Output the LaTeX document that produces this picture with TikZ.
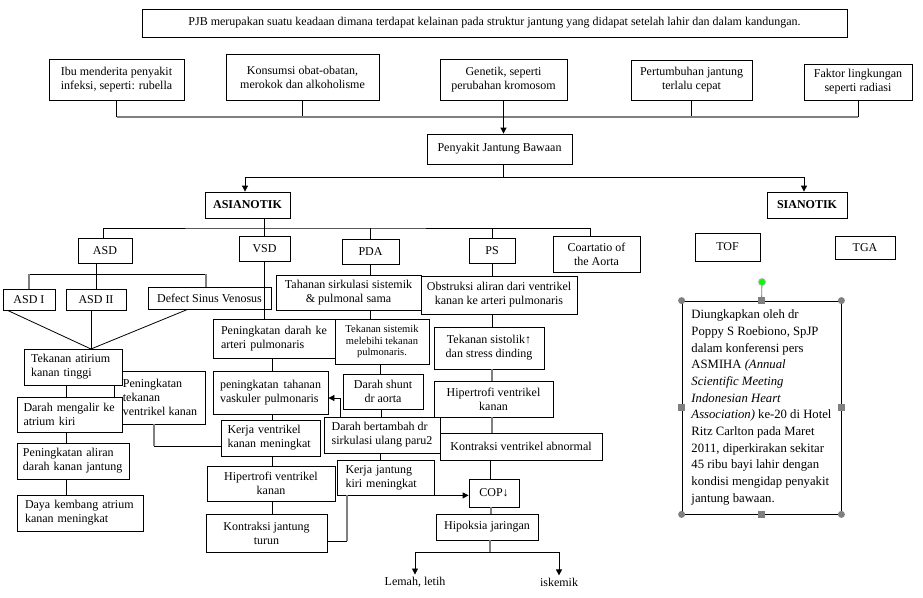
\documentclass[tikz,border=0pt]{standalone}
\usepackage{fontspec}
\setmainfont{Liberation Serif}
\usetikzlibrary{arrows.meta}
\hyphenpenalty=10000

\begin{document}
\begin{tikzpicture}[x=1pt,y=-1pt,line width=0.8pt,
    sz/.style 2 args={minimum width=#1,minimum height=#2},
    box/.style={draw,fill=white,inner sep=2pt,align=center,font=\fontsize{12}{14}\selectfont},
    lbox/.style={box,align=left},
    bbox/.style={box,font=\fontsize{12}{14}\selectfont\bfseries},
    sbox/.style={box,font=\fontsize{10.5}{11.5}\selectfont},
    nbox/.style={box,align=left,font=\fontsize{12.7}{16.7}\selectfont},
    lbl/.style={inner sep=2pt,font=\fontsize{12}{14}\selectfont},
    arr/.style={-{Triangle[length=6pt,width=6pt]}},
    gline/.style={draw=gray,line width=1.6pt}]
  \useasboundingbox (0,0) rectangle (923,597);

  \node[box,sz={705}{28}] (pjb) at (494.5,23) {PJB merupakan suatu keadaan dimana terdapat kelainan pada struktur jantung yang didapat setelah lahir dan dalam kandungan.};
  \node[box,sz={135}{41}] (ibu) at (116.5,79.5) {Ibu menderita penyakit\\infeksi, seperti: rubella};
  \node[box,sz={153}{46}] (obat) at (302.5,77) {Konsumsi obat-obatan,\\merokok dan alkoholisme};
  \node[box,sz={127}{41}] (genetik) at (503.5,79.5) {Genetik, seperti\\perubahan kromosom};
  \node[box,sz={121}{40}] (tumbuh) at (691.5,80) {Pertumbuhan jantung\\terlalu cepat};
  \node[box,sz={108}{36}] (faktor) at (858,82) {Faktor lingkungan\\seperti radiasi};
  \node[box,sz={145}{30}] (pjbawaan) at (499.5,149) {Penyakit Jantung Bawaan};

  \node[bbox,sz={85}{26}] (asianotik) at (247.5,205) {ASIANOTIK};
  \node[bbox,sz={80}{26}] (sianotik) at (807,205) {SIANOTIK};
  \node[box,sz={54}{25}] (asd) at (105,250.5) {ASD};
  \node[box,sz={51}{25}] (vsd) at (264.5,248.5) {VSD};
  \node[box,sz={57}{25}] (pda) at (370.5,251.5) {PDA};
  \node[box,sz={46}{25}] (ps) at (492,250.5) {PS};
  \node[box,sz={87}{36}] (coa) at (596.5,254) {Coartatio of\\the Aorta};
  \node[box,sz={65}{28}] (tof) at (727.5,247) {TOF};
  \node[box,sz={60}{23}] (tga) at (865,247.5) {TGA};

  \node[box,sz={52}{21}] (asdi) at (29,299.5) {ASD I};
  \node[box,sz={60}{21}] (asdii) at (96,299.5) {ASD II};
  \node[box,sz={123}{22}] (dsv) at (209.5,298) {Defect Sinus Venosus};

  \node[lbox,sz={91}{53}] (pentekanan) at (160,397.5) {Peningkatan\\tekanan\\ventrikel kanan};
  \node[lbox,sz={98}{36},text width=84] (tekatrium) at (73,367) {Tekanan atirium\\kanan tinggi};
  \node[lbox,sz={105}{35},text width=92] (mengalir) at (69.5,414.5) {Darah mengalir ke\\atrium kiri};
  \node[lbox,sz={112}{36},text width=100] (aliran) at (73,461) {Peningkatan aliran\\darah kanan jantung};
  \node[lbox,sz={126}{36},text width=110] (daya) at (80,513) {Daya kembang atrium\\kanan meningkat};

  \node[box,sz={145}{35}] (tahanan) at (348.5,292.5) {Tahanan sirkulasi sistemik\\\& pulmonal sama};
  \node[box,sz={156}{38}] (obstruksi) at (499,295) {Obstruksi aliran dari ventrikel\\kanan ke arteri pulmonaris};

  \node[lbox,sz={122}{39},text width=106] (pendarah) at (274,338.5) {Peningkatan\hfill darah\hfill ke\\arteri pulmonaris};
  \node[lbox,sz={115}{43},text width=101] (pentahanan) at (270.5,392.5) {peningkatan\hfill tahanan\\vaskuler pulmonaris};
  \node[lbox,sz={99}{36},text width=86] (kerjakanan) at (270.5,438) {Kerja ventrikel\\kanan meningkat};
  \node[box,sz={128}{35}] (hipvsd) at (271,483.5) {Hipertrofi ventrikel\\kanan};
  \node[box,sz={121}{38}] (turun) at (266.5,533) {Kontraksi jantung\\turun};

  \node[sbox,sz={94}{45}] (teksis) at (382,341.5) {Tekanan sistemik\\melebihi tekanan\\pulmonaris.};
  \node[box,sz={80}{35}] (shunt) at (383,391.5) {Darah shunt\\dr aorta};
  \node[lbox,sz={116}{36}] (bertambah) at (382,435) {Darah bertambah dr\\sirkulasi ulang paru2};
  \node[lbox,sz={97}{35},text width=80] (kerjakiri) at (385.5,477.5) {Kerja jantung\\kiri meningkat};

  \node[box,sz={110}{42}] (sistolik) at (489,348) {Tekanan sistolik↑\\dan stress dinding};
  \node[box,sz={119}{36}] (hipps) at (493.5,399) {Hipertrofi ventrikel\\kanan};
  \node[box,sz={162}{27}] (kontraksiab) at (521,446.5) {Kontraksi ventrikel abnormal};
  \node[box,sz={50}{28}] (cop) at (494,493) {COP↓};
  \node[box,sz={102}{26}] (hipoksia) at (487,527) {Hipoksia jaringan};
  \node[lbl] (lemah) at (415,582) {Lemah, letih};
  \node[lbl] (iskemik) at (559,582) {iskemik};

  \node[nbox,sz={159}{213}] (note) at (761.5,407.5) {Diungkapkan oleh dr\\Poppy S Roebiono, SpJP\\dalam konferensi pers\\ASMIHA \textit{(Annual}\\\textit{Scientific Meeting}\\\textit{Indonesian Heart}\\\textit{Association)} ke-20 di Hotel\\Ritz Carlton pada Maret\\2011, diperkirakan sekitar\\45 ribu bayi lahir dengan\\kondisi mengidap penyakit\\jantung bawaan.};
  \coordinate (rot) at (762,282);
  \draw[gray] (note.north) -- (rot);
  \filldraw[fill=green,draw=gray!60] (rot) circle (3.5);
  \foreach \a in {north west,north east,south west,south east}
    \fill[gray] (note.\a) circle (3.5);
  \foreach \a in {north,south,west,east}
    \fill[gray] (note.\a) +(-3.5,-3.5) rectangle +(3.5,3.5);

  \coordinate (cbus) at (503,117);
  \foreach \n in {ibu,obat,tumbuh,faktor}
    \draw (\n.south) -- (\n.south |- cbus);
  \draw[gline] (ibu.south |- cbus) -- (faktor.south |- cbus);
  \draw[arr] (genetik.south) -- (genetik.south |- pjbawaan.north);
  \coordinate (jsplit) at (503.5,177);
  \draw (jsplit |- pjbawaan.south) -- (jsplit);
  \draw[arr] (jsplit) -| ([xshift=-2.5pt]asianotik.north);
  \draw[arr] (jsplit) -| ([xshift=-3pt]sianotik.north);

  \coordinate (abus) at (265,228);
  \draw (asianotik.south -| vsd.north) -- (vsd.north);
  \draw ([xshift=-2pt]asd.north) |- (abus) -| ([xshift=-6.5pt]coa.north);
  \draw (pda.north) -- (pda.north |- abus);
  \draw (ps.north) -- (ps.north |- abus);

  \coordinate (sbus) at (96,274);
  \draw (asdii.north |- asd.south) -- (asdii.north);
  \draw (asdi.north |- sbus) -- ([xshift=-3.5pt]dsv.north |- sbus);
  \draw[gline] (asdi.north |- sbus) -- (asdi.north);
  \draw[gline] ([xshift=-3.5pt]dsv.north |- sbus) -- ([xshift=-3.5pt]dsv.north);

  \coordinate (apex) at (91,349);
  \draw ([xshift=5pt]asdi.south west) -- (apex);
  \draw (apex |- asdii.south) -- (apex);
  \draw ([xshift=40pt]dsv.south west) -- (apex);

  \coordinate (lcol) at (66,440);
  \foreach \a/\b in {tekatrium/mengalir,mengalir/aliran,aliran/daya}
    \draw (\a.south -| lcol) -- (\b.north -| lcol);
  \coordinate (tvk) at (154,446);
  \draw[gline] (pentekanan.south -| tvk) -- (tvk);
  \draw (tvk) -- (tvk -| kerjakanan.west);

  \coordinate (vcol) at (272,400);
  \draw (vsd.south) -- (vsd.south |- pendarah.north);
  \foreach \a/\b in {pendarah/pentahanan,pentahanan/kerjakanan,kerjakanan/hipvsd,hipvsd/turun}
    \draw (\a.south -| vcol) -- (\b.north -| vcol);

  \draw (pda.south) -- (pda.south |- tahanan.north);
  \draw (tahanan.south -| pda.south) -- (teksis.north -| pda.south);
  \foreach \a/\b in {teksis/shunt,shunt/bertambah,bertambah/kerjakiri}
    \draw ([xshift=-2pt]\a.south) -- ([xshift=-2pt]\a.south |- \b.north);
  \draw[arr] ([xshift=-42pt]bertambah.north) |- ([yshift=-5.5pt]pentahanan.east);
  \coordinate (kturn) at (347,541);
  \draw[gline] (kerjakiri.south -| kturn) -- (kturn);
  \draw (kturn) -- (kturn -| turun.east);
  \draw[arr] (kerjakiri.south east) -- (kerjakiri.south east -| cop.west);

  \draw (ps.south) -- (ps.south |- obstruksi.north);
  \draw (obstruksi.south -| ps.south) -- (sistolik.north -| ps.south);
  \draw[gline] (sistolik.south -| ps.south) -- (hipps.north -| ps.south);
  \draw[gline] (hipps.south -| ps.south) -- (kontraksiab.north -| ps.south);
  \draw ([xshift=-4pt]cop.north |- kontraksiab.south) -- ([xshift=-4pt]cop.north);
  \draw[gline] ([xshift=-3pt]cop.south) -- ([xshift=-3pt]cop.south |- hipoksia.north);
  \coordinate (hsplit) at (490,552);
  \draw[gline] (hipoksia.south -| hsplit) -- (hsplit);
  \draw[arr] (hsplit) -| (lemah.north);
  \draw[arr] (hsplit) -| (iskemik.north);
\end{tikzpicture}
\end{document}
